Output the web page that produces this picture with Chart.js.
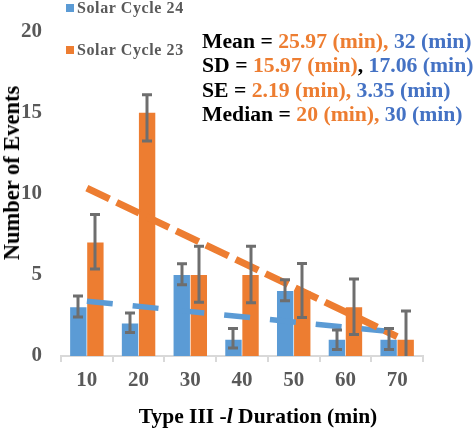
<!DOCTYPE html>
<html>
<head>
<meta charset="utf-8">
<script src="https://cdn.jsdelivr.net/npm/chart.js@4/dist/chart.umd.min.js"></script>
<style>
  html, body { margin: 0; padding: 0; background: #fff; }
  #wrap { position: relative; width: 474px; height: 434px; overflow: hidden; font-family: "Liberation Serif", "Times New Roman", serif; }
  #c { position: absolute; left: 0; top: 0; }
  .leg { position: absolute; left: 66px; font-weight: bold; font-size: 16px; letter-spacing: 0.6px; color: #595959; white-space: nowrap; line-height: 16px; }
  .leg i { display: inline-block; width: 8px; height: 8px; margin-right: 3px; vertical-align: 1px; }
  #stats { position: absolute; left: 202px; top: 29px; font-weight: bold; font-size: 21.7px; line-height: 24.3px; color: #000; white-space: nowrap; }
  .o { color: #ED7D31; } .b { color: #4472C4; }
  #ytitle { position: absolute; left: 12px; top: 173px; transform: translate(-50%, -50%) rotate(-90deg); font-weight: bold; font-size: 22.5px; white-space: nowrap; color: #000; }
  #xtitle { position: absolute; left: 258px; top: 404px; transform: translateX(-50%); font-weight: bold; font-size: 21.5px; white-space: nowrap; color: #000; }
</style>
</head>
<body>
<div id="wrap">
  <canvas id="c" width="474" height="434"></canvas>
  <div class="leg" style="top:0px"><i style="background:#5B9BD5"></i>Solar Cycle 24</div>
  <div class="leg" style="top:42px"><i style="background:#ED7D31"></i>Solar Cycle 23</div>
  <div id="stats">
    <div>Mean = <span class="o">25.97 (min), </span><span class="b">32 (min)</span></div>
    <div>SD = <span class="o">15.97 (min)</span>, <span class="b">17.06 (min)</span></div>
    <div>SE = <span class="o">2.19 (min), </span><span class="b">3.35 (min)</span></div>
    <div>Median = <span class="o">20 (min), </span><span class="b">30 (min)</span></div>
  </div>
  <div id="ytitle">Number of Events</div>
  <div id="xtitle">Type III -<i>l</i> Duration (min)</div>
</div>
<script>
const categories = ['10', '20', '30', '40', '50', '60', '70'];
const cycle24 = [3, 2, 5, 1, 4, 1, 1];
const cycle23 = [7, 15, 5, 5, 4, 3, 1];
const err24Up = [0.7, 0.65, 0.68, 0.7, 0.7, 0.6, 0.7];
const err24Down = [0.6, 0.55, 0.6, 0.5, 0.6, 0.6, 0.6];
const err23Up = [1.73, 1.1, 1.77, 1.77, 1.7, 1.75, 1.78];
const err23Down = [1.64, 1.74, 1.68, 1.72, 1.63, 1.67, 1.7];
const trend24 = [3.38, null, null, null, null, null, 1.46];
const trend23 = [10.35, null, null, null, null, null, 1.2];
const yTicks = [0, 5, 10, 15, 20];

const tickFont = { family: '"Liberation Serif", "Times New Roman", serif', weight: 'bold', size: 21 };

const errorBars = {
  id: 'errorBars',
  afterDatasetsDraw(chart) {
    const ctx = chart.ctx;
    const ys = chart.scales.y;
    const area = chart.chartArea;
    const sets = [[0, cycle24, err24Up, err24Down], [1, cycle23, err23Up, err23Down]];
    ctx.save();
    ctx.beginPath();
    ctx.rect(area.left, area.top - 20, area.right - area.left, area.bottom - area.top + 20);
    ctx.clip();
    ctx.strokeStyle = '#6E6E6E';
    ctx.lineWidth = 3;
    ctx.lineCap = 'butt';
    sets.forEach(([di, vals, up, dn]) => {
      const meta = chart.getDatasetMeta(di);
      meta.data.forEach((bar, i) => {
        const x = Math.round(bar.x);
        const yt = ys.getPixelForValue(vals[i] + up[i]);
        const yb = ys.getPixelForValue(vals[i] - dn[i]);
        ctx.beginPath();
        ctx.moveTo(x, yt); ctx.lineTo(x, yb);
        ctx.moveTo(x - 5, yt); ctx.lineTo(x + 5, yt);
        if (vals[i] - dn[i] >= 0) { ctx.moveTo(x - 5, yb); ctx.lineTo(x + 5, yb); }
        ctx.stroke();
      });
    });
    ctx.restore();
  }
};

new Chart(document.getElementById('c'), {
  type: 'bar',
  data: {
    labels: categories,
    datasets: [
      { label: 'Solar Cycle 24', data: cycle24, backgroundColor: '#5B9BD5', order: 2,
        categoryPercentage: 0.66, barPercentage: 0.96 },
      { label: 'Solar Cycle 23', data: cycle23, backgroundColor: '#ED7D31', order: 2,
        categoryPercentage: 0.66, barPercentage: 0.96 },
      { type: 'line', label: 'Trend 24', data: trend24, borderColor: '#5B9BD5', borderWidth: 5.5,
        borderDash: [26, 20], pointRadius: 0, spanGaps: true, fill: false, order: 1, tension: 0 },
      { type: 'line', label: 'Trend 23', data: trend23, borderColor: '#ED7D31', borderWidth: 7,
        borderDash: [25, 8], pointRadius: 0, spanGaps: true, fill: false, order: 0, tension: 0 }
    ]
  },
  options: {
    responsive: false,
    devicePixelRatio: 1,
    animation: false,
    layout: { padding: { left: 0, top: 25, right: 51, bottom: 0 } },
    plugins: { legend: { display: false }, tooltip: { enabled: false } },
    scales: {
      x: {
        grid: { display: true, drawOnChartArea: false, drawTicks: true, tickLength: 6, color: '#D9D9D9', lineWidth: 2 },
        border: { display: true, color: '#D9D9D9', width: 2 },
        ticks: { font: tickFont, color: '#595959', padding: 6, maxRotation: 0 },
        afterFit(s) { s.height = 78; }
      },
      y: {
        min: 0, max: 20,
        afterBuildTicks(s) { s.ticks = yTicks.map(v => ({ value: v })); },
        grid: { display: false, drawTicks: false },
        border: { display: false },
        ticks: { font: tickFont, color: '#595959', padding: 19 },
        afterFit(s) { s.width = 61; }
      }
    }
  },
  plugins: [errorBars]
});
</script>
</body>
</html>
